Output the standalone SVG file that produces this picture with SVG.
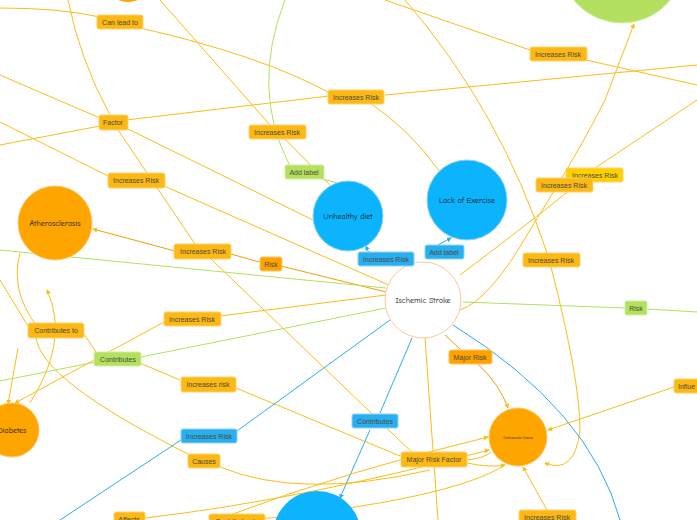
<svg xmlns="http://www.w3.org/2000/svg" width="697" height="520" viewBox="0 0 697 520">
<defs>
<style>
.e{fill:none;stroke:#fbbd17;stroke-width:1}
.eo{fill:none;stroke:#f59f00;stroke-width:1}
.eg{fill:none;stroke:#b3e05e;stroke-width:1}
.eb{fill:none;stroke:#29aef0;stroke-width:1}
.l rect{fill:#fcb814;stroke:#ffd36b;stroke-width:1}
.l.g rect{fill:#b3e05e;stroke:#d2ef9c}
.l.b rect{fill:#29aef0;stroke:#8fd3f7}
.l.o rect{fill:#ffa200;stroke:#ffc766}
.l.y rect{fill:#ffd000}
.l text{font-family:"Liberation Sans",Arial,sans-serif;font-size:7px;fill:#4a4a3a;text-anchor:middle}
.n text{font-family:"Comic Neue","DejaVu Sans",sans-serif;font-size:8px;fill:#111;text-anchor:middle}
</style>
<marker id="a" viewBox="0 0 6 6" refX="5" refY="3" markerWidth="5" markerHeight="5" orient="auto"><path d="M0,0L6,3L0,6z" fill="#fbbd17"/></marker>
<marker id="ab" viewBox="0 0 6 6" refX="5" refY="3" markerWidth="5" markerHeight="5" orient="auto"><path d="M0,0L6,3L0,6z" fill="#29aef0"/></marker>
</defs>
<g id="connectors">
<path class="e" d="M0,8 Q60,8 100,17 M140,28 Q260,55 330,93 M370,103 Q410,130 440,172"/>
<path class="e" d="M0,75 L100,118 M126,128 L313,220"/>
<path class="e" d="M0,145 L100,126 M126,120 L329,96 M385,95 L697,65"/>
<path class="e" d="M0,122 L108,176 M164,186 L400,290"/>
<path class="e" d="M68,0 Q80,60 110,115 M118,130 L195,244 M210,258 L420,460"/>
<path class="e" d="M160,0 L270,125 M285,139 L330,185"/>
<path class="e" d="M405,0 Q500,110 547,253 M551,267 Q580,380 580,430 Q575,475 545,463" marker-end="url(#a)"/>
<path class="e" d="M385,0 L530,50 M586,60 L697,85"/>
<path class="e" d="M697,100 L595,168 M570,190 Q520,230 460,275"/>
<path class="e" d="M460,310 Q490,300 530,230 Q580,150 605,100 L634,24" marker-end="url(#a)"/>
<path class="eo" d="M175,251 L93,229" marker-end="url(#a)"/>
<path class="eo" d="M231,254 L259,262 M281,266 L386,292"/>
<path class="e" d="M220,316 L386,295 M164,322 L15,403" marker-end="url(#a)"/>
<path class="e" d="M0,280 L28,326 M84,334 L98,355 M140,363 L180,380 M236,388 L400,456"/>
<path class="e" d="M18,348 L8,404" marker-end="url(#a)"/>
<path class="e" d="M30,403 Q70,340 47,290" marker-end="url(#a)"/>
<path class="e" d="M36,337 Q40,380 190,455 M220,467 Q300,500 430,470"/>
<path class="e" d="M20,253 Q10,290 36,325"/>
<path class="eg" d="M0,250 L386,288 M0,381 L96,362 M141,357 L386,308 M463,302 L625,308 M647,309 L697,312"/>
<path class="eg" d="M285,0 Q250,90 290,166 M318,178 L338,183"/>
<path class="eb" d="M370,256 L366,246" marker-end="url(#ab)"/>
<path class="eb" d="M436,246 L451,238" marker-end="url(#ab)"/>
<path class="eb" d="M60,520 L181,440 M237,431 L390,320"/>
<path class="eb" d="M412,338 L380,413 M370,430 L340,498" marker-end="url(#ab)"/>
<path class="eb" d="M453,325 Q590,410 620,520"/>
<path class="eo" d="M445,335 L460,349 M478,364 Q500,385 508,408" marker-end="url(#a)"/>
<path class="e" d="M674,387 L548,430" marker-end="url(#a)"/>
<path class="e" d="M547,510 L523,467" marker-end="url(#a)"/>
<path class="e" d="M425,338 L438,520"/>
<path class="e" d="M230,515 Q350,470 488,437" marker-end="url(#a)"/>
<path class="e" d="M145,518 Q300,500 489,450" marker-end="url(#a)"/>
<path class="e" d="M467,460 Q485,458 491,452 M467,463 Q490,468 505,465" marker-end="url(#a)"/>
<path class="e" d="M250,520 Q450,500 505,465"/>
</g>
<g id="n-top-orange" class="n"><circle cx="128" cy="-22" r="24" fill="#ffa500"/></g>
<g id="n-top-green" class="n"><circle cx="622" cy="-39" r="62" fill="#b3e05e" stroke="#d2ef9c"/></g>
<g id="n-stroke" class="n"><circle cx="423" cy="300" r="38" fill="#fff" stroke="#fbc7a0"/><text x="423" y="303">Ischemic Stroke</text></g>
<g id="n-diet" class="n"><circle cx="348" cy="216" r="35" fill="#0bb4fc" stroke="#8fd3f7"/><text x="348" y="219">Unhealthy diet</text></g>
<g id="n-exercise" class="n"><circle cx="467" cy="200" r="40" fill="#0bb4fc" stroke="#8fd3f7"/><text x="467" y="203">Lack of Exercise</text></g>
<g id="n-athero" class="n"><circle cx="55" cy="223" r="37" fill="#ffa500" stroke="#ffc766"/><text x="55" y="226">Atherosclerosis</text></g>
<g id="n-diabetes" class="n"><circle cx="12" cy="430" r="27" fill="#ffa500" stroke="#ffc766"/><text x="12" y="433">Diabetes</text></g>
<g id="n-cardio" class="n"><circle cx="518" cy="437" r="29" fill="#ffa500" stroke="#ffc766"/><text x="518" y="439" style="font-size:3px">Cardiovascular Disease</text></g>
<g id="n-bottom-blue" class="n"><circle cx="317" cy="535" r="44" fill="#0bb4fc"/></g>
<g id="labels">
<g class="l"><rect x="97" y="15" width="46" height="14" rx="2"/><text x="120" y="25">Can lead to</text></g>
<g class="l"><rect x="328" y="90" width="56" height="14" rx="2"/><text x="356" y="100">Increases Risk</text></g>
<g class="l"><rect x="530" y="47" width="57" height="14" rx="2"/><text x="558" y="57">Increases Risk</text></g>
<g class="l"><rect x="99" y="115" width="29" height="15" rx="2"/><text x="113" y="125">Factor</text></g>
<g class="l"><rect x="249" y="125" width="57" height="14" rx="2"/><text x="277" y="135">Increases Risk</text></g>
<g class="l"><rect x="108" y="173" width="57" height="15" rx="2"/><text x="136" y="183">Increases Risk</text></g>
<g class="l g"><rect x="285" y="165" width="39" height="14" rx="2"/><text x="304" y="175">Add label</text></g>
<g class="l y"><rect x="566" y="168" width="57" height="14" rx="2"/><text x="595" y="178">Increases Risk</text></g>
<g class="l"><rect x="536" y="178" width="57" height="14" rx="2"/><text x="564" y="188">Increases Risk</text></g>
<g class="l"><rect x="174" y="244" width="57" height="15" rx="2"/><text x="203" y="254">Increases Risk</text></g>
<g class="l o"><rect x="260" y="257" width="22" height="14" rx="2"/><text x="271" y="267">Risk</text></g>
<g class="l b"><rect x="358" y="252" width="56" height="14" rx="2"/><text x="386" y="262">Increases Risk</text></g>
<g class="l b"><rect x="425" y="245" width="39" height="14" rx="2"/><text x="444" y="255">Add label</text></g>
<g class="l"><rect x="523" y="253" width="57" height="14" rx="2"/><text x="551" y="263">Increases Risk</text></g>
<g class="l"><rect x="164" y="312" width="57" height="14" rx="2"/><text x="192" y="322">Increases Risk</text></g>
<g class="l"><rect x="28" y="323" width="56" height="15" rx="2"/><text x="56" y="333">Contributes to</text></g>
<g class="l g"><rect x="94" y="352" width="47" height="14" rx="2"/><text x="118" y="362">Contributes</text></g>
<g class="l g"><rect x="625" y="301" width="22" height="14" rx="2"/><text x="636" y="311">Risk</text></g>
<g class="l"><rect x="181" y="377" width="55" height="15" rx="2"/><text x="208" y="387">Increases risk</text></g>
<g class="l o"><rect x="449" y="350" width="43" height="14" rx="2"/><text x="470" y="360">Major Risk</text></g>
<g class="l"><rect x="674" y="379" width="30" height="14" rx="2"/><text x="678" y="389" style="text-anchor:start">Influe</text></g>
<g class="l b"><rect x="352" y="414" width="46" height="14" rx="2"/><text x="375" y="424">Contributes</text></g>
<g class="l b"><rect x="181" y="429" width="56" height="14" rx="2"/><text x="209" y="439">Increases Risk</text></g>
<g class="l"><rect x="188" y="454" width="32" height="14" rx="2"/><text x="204" y="464">Causes</text></g>
<g class="l"><rect x="401" y="452" width="66" height="15" rx="2"/><text x="434" y="462">Major Risk Factor</text></g>
<g class="l"><rect x="114" y="512" width="31" height="14" rx="2"/><text x="129" y="522">Affects</text></g>
<g class="l"><rect x="209" y="514" width="56" height="14" rx="2"/><text x="237" y="524">Contributes to</text></g>
<g class="l"><rect x="519" y="510" width="57" height="14" rx="2"/><text x="547" y="520">Increases Risk</text></g>
</g>
</svg>
